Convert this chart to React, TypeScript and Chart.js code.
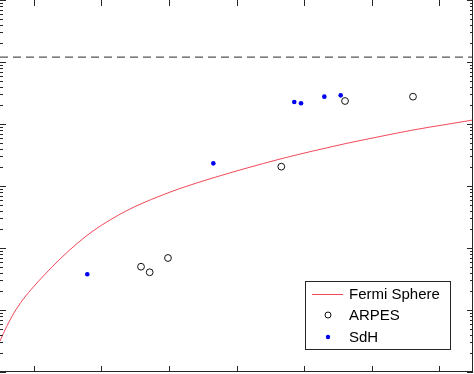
import React, { useEffect, useRef } from "react";
import { Chart, registerables } from "chart.js";

Chart.register(...registerables);

// ---- data ----
const xTickValues = [1, 2, 3, 4, 5, 6, 7];
const xRange = [0.5, 7.5];
const yRange = [1e10, 1e16];
const yDecades = [10, 11, 12, 13, 14, 15, 16];

const fermiX = [0.5, 0.549, 0.599, 0.697, 0.845, 0.993, 1.141, 1.388, 1.64, 1.876, 2.128, 2.38, 2.616, 2.868, 3.164, 3.652, 4.155, 4.644, 5.132, 5.621, 6.124, 6.612, 7.1, 7.5];
const fermiY = [3.16e10, 4.18e10, 5.42e10, 8.61e10, 1.5e11, 2.35e11, 3.53e11, 6.65e11, 1.18e12, 1.88e12, 2.83e12, 4.03e12, 5.32e12, 6.9e12, 9.12e12, 1.35e13, 1.95e13, 2.72e13, 3.67e13, 4.85e13, 6.28e13, 8.0e13, 9.82e13, 1.16e14];

const arpesX = [2.587, 2.715, 2.986, 4.663, 5.606, 6.612];
const arpesY = [4.99e11, 4.06e11, 6.9e11, 2.05e13, 2.35e14, 2.76e14];

const sdhX = [1.792, 3.657, 4.855, 4.955, 5.3, 5.542];
const sdhY = [3.77e11, 2.32e13, 2.26e14, 2.16e14, 2.76e14, 2.9e14];

const dashedLevel = 1.2e15;

const legendLabels = ["Fermi Sphere", "ARPES", "SdH"];

const FONT = '"Liberation Sans", Arial, Helvetica, sans-serif';
const RED = "rgba(240,40,60,0.85)";
const BLUE = "#0000f0";

const zip = (xs: number[], ys: number[]) => xs.map((x, i) => ({ x, y: ys[i] }));

const axesPlugin = {
  id: "matlabAxes",
  afterDatasetsDraw(chart: any) {
    const { ctx, chartArea, scales } = chart;
    const { left, right, top, bottom } = chartArea;
    const xs = scales.x;
    const ys = scales.y;
    ctx.save();
    ctx.strokeStyle = "#262626";
    ctx.lineWidth = 1;
    // frame (left/top are cropped in the reference)
    ctx.beginPath();
    ctx.moveTo(right - 0.5, top);
    ctx.lineTo(right - 0.5, bottom);
    ctx.moveTo(left, bottom - 0.5);
    ctx.lineTo(right, bottom - 0.5);
    ctx.stroke();
    // x ticks (inward, top and bottom)
    ctx.beginPath();
    xTickValues.forEach((v) => {
      const px = Math.round(xs.getPixelForValue(v)) + 0.5;
      ctx.moveTo(px, bottom);
      ctx.lineTo(px, bottom - 6);
      ctx.moveTo(px, top);
      ctx.lineTo(px, top + 6);
    });
    // y ticks (log: major + minor)
    yDecades.forEach((d) => {
      const py = Math.round(ys.getPixelForValue(Math.pow(10, d))) + 0.5;
      ctx.moveTo(left, py);
      ctx.lineTo(left + 6, py);
      ctx.moveTo(right, py);
      ctx.lineTo(right - 6, py);
      if (d < yDecades[yDecades.length - 1]) {
        for (let m = 2; m <= 9; m++) {
          const pm = Math.round(ys.getPixelForValue(m * Math.pow(10, d))) + 0.5;
          ctx.moveTo(left, pm);
          ctx.lineTo(left + 3, pm);
          ctx.moveTo(right, pm);
          ctx.lineTo(right - 3, pm);
        }
      }
    });
    ctx.stroke();

    // legend box
    const bx = right - 168;
    const by = bottom - 91;
    const bw = 145;
    const bh = 68;
    ctx.fillStyle = "#ffffff";
    ctx.fillRect(bx, by, bw, bh);
    ctx.strokeStyle = "#262626";
    ctx.strokeRect(bx + 0.5, by + 0.5, bw, bh);
    const rows = [by + 13, by + 34, by + 56];
    ctx.font = `15px ${FONT}`;
    ctx.fillStyle = "#000";
    ctx.textBaseline = "middle";
    legendLabels.forEach((t, i) => ctx.fillText(t, bx + 44, rows[i] + 1));
    // samples
    ctx.strokeStyle = RED;
    ctx.beginPath();
    ctx.moveTo(bx + 7, rows[0] + 0.5);
    ctx.lineTo(bx + 38, rows[0] + 0.5);
    ctx.stroke();
    ctx.strokeStyle = "#111";
    ctx.beginPath();
    ctx.arc(bx + 23, rows[1], 3, 0, Math.PI * 2);
    ctx.stroke();
    ctx.fillStyle = BLUE;
    ctx.beginPath();
    ctx.arc(bx + 23, rows[2], 2.2, 0, Math.PI * 2);
    ctx.fill();
    ctx.restore();
  },
};

export default function App() {
  const ref = useRef<HTMLCanvasElement | null>(null);
  useEffect(() => {
    if (!ref.current) return;
    const chart = new Chart(ref.current, {
      type: "scatter",
      data: {
        datasets: [
          {
            label: "dashed",
            data: [
              { x: xRange[0], y: dashedLevel },
              { x: xRange[1], y: dashedLevel },
            ],
            showLine: true,
            borderColor: "#555555",
            borderWidth: 1.2,
            borderDash: [8, 5],
            pointRadius: 0,
          },
          {
            label: legendLabels[0],
            data: zip(fermiX, fermiY),
            showLine: true,
            borderColor: RED,
            borderWidth: 1,
            pointRadius: 0,
            cubicInterpolationMode: "monotone",
          },
          {
            label: legendLabels[2],
            data: zip(sdhX, sdhY),
            pointRadius: 2.3,
            pointBackgroundColor: BLUE,
            pointBorderColor: BLUE,
            pointBorderWidth: 0,
          },
          {
            label: legendLabels[1],
            data: zip(arpesX, arpesY),
            pointRadius: 3.4,
            pointBackgroundColor: "rgba(0,0,0,0)",
            pointBorderColor: "#111111",
            pointBorderWidth: 1,
          },
        ],
      },
      options: {
        animation: false,
        responsive: false,
        layout: { autoPadding: false, padding: { left: 0, top: 0, right: 1, bottom: 2 } },
        scales: {
          x: { type: "linear", min: xRange[0], max: xRange[1], display: false },
          y: { type: "logarithmic", min: yRange[0], max: yRange[1], display: false },
        },
        plugins: { legend: { display: false }, tooltip: { enabled: false } },
      },
      plugins: [axesPlugin],
    } as any);
    return () => chart.destroy();
  }, []);
  return (
    <div style={{ position: "fixed", left: 0, top: 0, width: 474, height: 374, background: "#fff" }}>
      <canvas ref={ref} width={474} height={374} style={{ display: "block" }} />
    </div>
  );
}
